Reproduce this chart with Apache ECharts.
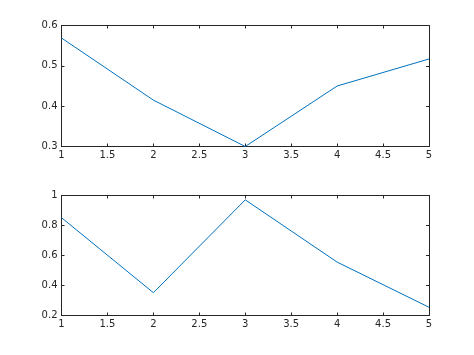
<!DOCTYPE html>
<html>
<head>
<meta charset="utf-8">
<script src="https://cdn.jsdelivr.net/npm/echarts@6/dist/echarts.min.js"></script>
<style>html,body{margin:0;padding:0;background:#fff}#c{width:474px;height:355px}</style>
</head>
<body>
<div id="c"></div>
<script>
var xValues = [1, 2, 3, 4, 5];
var topValues = [0.569, 0.415, 0.300, 0.450, 0.517];
var bottomValues = [0.852, 0.352, 0.971, 0.556, 0.255];

var axisColor = '#262626';
var font = 'DejaVu Sans';

function xAx(gi, pos, showLabel) {
  return {
    type: 'value', gridIndex: gi, position: pos, min: 1, max: 5, interval: 0.5,
    axisLine: {show: true, onZero: false, lineStyle: {color: axisColor, width: 1}},
    axisTick: {show: true, inside: true, length: 3, lineStyle: {color: axisColor}},
    axisLabel: {show: showLabel, color: axisColor, fontFamily: font, fontSize: 10, margin: 4},
    splitLine: {show: false}
  };
}
function yAx(gi, pos, showLabel, mn, mx, iv) {
  return {
    type: 'value', gridIndex: gi, position: pos, min: mn, max: mx, interval: iv,
    axisLine: {show: true, onZero: false, lineStyle: {color: axisColor, width: 1}},
    axisTick: {show: true, inside: true, length: 3, lineStyle: {color: axisColor}},
    axisLabel: {show: showLabel, color: axisColor, fontFamily: font, fontSize: 10, margin: 4},
    splitLine: {show: false}
  };
}

var chart = echarts.init(document.getElementById('c'), null, {renderer: 'canvas'});
chart.setOption({
  animation: false,
  backgroundColor: '#fff',
  grid: [
    {left: 61.5, right: 45, top: 25.5, height: 121},
    {left: 61.5, right: 45, top: 195.5, height: 120}
  ],
  xAxis: [xAx(0, 'bottom', true), xAx(0, 'top', false), xAx(1, 'bottom', true), xAx(1, 'top', false)],
  yAxis: [
    yAx(0, 'left', true, 0.3, 0.6, 0.1), yAx(0, 'right', false, 0.3, 0.6, 0.1),
    yAx(1, 'left', true, 0.2, 1, 0.2), yAx(1, 'right', false, 0.2, 1, 0.2)
  ],
  series: [
    {type: 'line', xAxisIndex: 0, yAxisIndex: 0, data: xValues.map(function (x, i) { return [x, topValues[i]]; }),
     showSymbol: false, lineStyle: {color: '#0072BD', width: 1}, itemStyle: {color: '#0072BD'}},
    {type: 'line', xAxisIndex: 2, yAxisIndex: 2, data: xValues.map(function (x, i) { return [x, bottomValues[i]]; }),
     showSymbol: false, lineStyle: {color: '#0072BD', width: 1}, itemStyle: {color: '#0072BD'}}
  ]
});
</script>
</body>
</html>
